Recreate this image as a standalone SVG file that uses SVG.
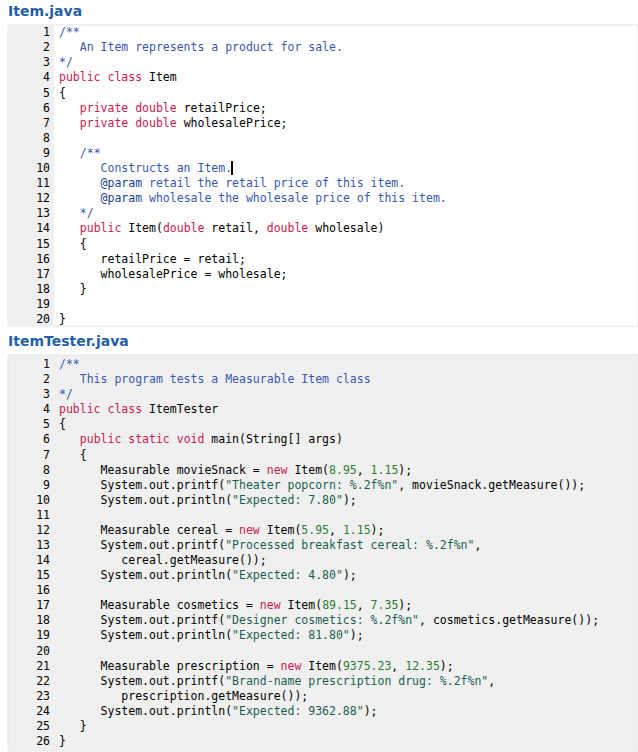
<svg xmlns="http://www.w3.org/2000/svg" width="638" height="752" viewBox="0 0 638 752">
<style>
.t{font-family:"DejaVu Sans",sans-serif;font-weight:bold;font-size:14px;fill:#1f5fa8}
.c{font-family:"DejaVu Sans Mono",monospace;font-size:11.5px;fill:#000;white-space:pre}
.n{font-family:"DejaVu Sans Mono",monospace;font-size:11.5px;fill:#000;text-anchor:end}
.k{fill:#c8204f}.m{fill:#3a57b0}.p{fill:#1d3f8f}.s{fill:#1a5e50}.d{fill:#2e7d32}
</style>
<text class="t" x="8" y="16">Item.java</text>
<rect x="8" y="25" width="630" height="301" fill="#fff" stroke="#e6e6e6"/>
<rect x="8" y="25" width="46" height="301" fill="#f0f0f0"/>
<g id="item" xml:space="preserve">
<text class="n" x="50" y="36.1">1</text><text class="c" x="59" y="36.1"><tspan class="m">/**</tspan></text>
<text class="n" x="50" y="51.2">2</text><text class="c" x="59" y="51.2"><tspan class="m">   An Item represents a product for sale.</tspan></text>
<text class="n" x="50" y="66.3">3</text><text class="c" x="59" y="66.3"><tspan class="m">*/</tspan></text>
<text class="n" x="50" y="81.4">4</text><text class="c" x="59" y="81.4"><tspan class="k">public class</tspan> Item</text>
<text class="n" x="50" y="96.5">5</text><text class="c" x="59" y="96.5">{</text>
<text class="n" x="50" y="111.6">6</text><text class="c" x="59" y="111.6">   <tspan class="k">private double</tspan> retailPrice;</text>
<text class="n" x="50" y="126.7">7</text><text class="c" x="59" y="126.7">   <tspan class="k">private double</tspan> wholesalePrice;</text>
<text class="n" x="50" y="141.8">8</text>
<text class="n" x="50" y="156.9">9</text><text class="c" x="59" y="156.9">   <tspan class="m">/**</tspan></text>
<text class="n" x="50" y="172">10</text><text class="c" x="59" y="172"><tspan class="m">      Constructs an Item.</tspan></text>
<text class="n" x="50" y="187.1">11</text><text class="c" x="59" y="187.1">      <tspan class="p">@param</tspan><tspan class="m"> retail the retail price of this item.</tspan></text>
<text class="n" x="50" y="202.2">12</text><text class="c" x="59" y="202.2">      <tspan class="p">@param</tspan><tspan class="m"> wholesale the wholesale price of this item.</tspan></text>
<text class="n" x="50" y="217.3">13</text><text class="c" x="59" y="217.3">   <tspan class="m">*/</tspan></text>
<text class="n" x="50" y="232.4">14</text><text class="c" x="59" y="232.4">   <tspan class="k">public</tspan> Item(<tspan class="k">double</tspan> retail, <tspan class="k">double</tspan> wholesale)</text>
<text class="n" x="50" y="247.5">15</text><text class="c" x="59" y="247.5">   {</text>
<text class="n" x="50" y="262.6">16</text><text class="c" x="59" y="262.6">      retailPrice = retail;</text>
<text class="n" x="50" y="277.7">17</text><text class="c" x="59" y="277.7">      wholesalePrice = wholesale;</text>
<text class="n" x="50" y="292.8">18</text><text class="c" x="59" y="292.8">   }</text>
<text class="n" x="50" y="307.9">19</text>
<text class="n" x="50" y="323">20</text><text class="c" x="59" y="323">}</text>
<rect x="231" y="161" width="2" height="14" fill="#000"/>
</g>
<text class="t" x="8" y="346">ItemTester.java</text>
<rect x="8" y="355" width="630" height="396" fill="#f0f0f0" stroke="#e6e6e6"/>
<g id="tester" xml:space="preserve">
<text class="n" x="50" y="368">1</text><text class="c" x="59" y="368"><tspan class="m">/**</tspan></text>
<text class="n" x="50" y="383.1">2</text><text class="c" x="59" y="383.1"><tspan class="m">   This program tests a Measurable Item class</tspan></text>
<text class="n" x="50" y="398.2">3</text><text class="c" x="59" y="398.2"><tspan class="m">*/</tspan></text>
<text class="n" x="50" y="413.2">4</text><text class="c" x="59" y="413.2"><tspan class="k">public class</tspan> ItemTester</text>
<text class="n" x="50" y="428.3">5</text><text class="c" x="59" y="428.3">{</text>
<text class="n" x="50" y="443.4">6</text><text class="c" x="59" y="443.4">   <tspan class="k">public static void</tspan> main(String[] args)</text>
<text class="n" x="50" y="458.5">7</text><text class="c" x="59" y="458.5">   {</text>
<text class="n" x="50" y="473.6">8</text><text class="c" x="59" y="473.6">      Measurable movieSnack = <tspan class="k">new</tspan> Item(<tspan class="d">8.95</tspan>, <tspan class="d">1.15</tspan>);</text>
<text class="n" x="50" y="488.6">9</text><text class="c" x="59" y="488.6">      System.out.printf(<tspan class="s">"Theater popcorn: %.2f%n"</tspan>, movieSnack.getMeasure());</text>
<text class="n" x="50" y="503.7">10</text><text class="c" x="59" y="503.7">      System.out.println(<tspan class="s">"Expected: 7.80"</tspan>);</text>
<text class="n" x="50" y="518.8">11</text>
<text class="n" x="50" y="533.9">12</text><text class="c" x="59" y="533.9">      Measurable cereal = <tspan class="k">new</tspan> Item(<tspan class="d">5.95</tspan>, <tspan class="d">1.15</tspan>);</text>
<text class="n" x="50" y="549">13</text><text class="c" x="59" y="549">      System.out.printf(<tspan class="s">"Processed breakfast cereal: %.2f%n"</tspan>,</text>
<text class="n" x="50" y="564">14</text><text class="c" x="59" y="564">         cereal.getMeasure());</text>
<text class="n" x="50" y="579.1">15</text><text class="c" x="59" y="579.1">      System.out.println(<tspan class="s">"Expected: 4.80"</tspan>);</text>
<text class="n" x="50" y="594.2">16</text>
<text class="n" x="50" y="609.3">17</text><text class="c" x="59" y="609.3">      Measurable cosmetics = <tspan class="k">new</tspan> Item(<tspan class="d">89.15</tspan>, <tspan class="d">7.35</tspan>);</text>
<text class="n" x="50" y="624.4">18</text><text class="c" x="59" y="624.4">      System.out.printf(<tspan class="s">"Designer cosmetics: %.2f%n"</tspan>, cosmetics.getMeasure());</text>
<text class="n" x="50" y="639.4">19</text><text class="c" x="59" y="639.4">      System.out.println(<tspan class="s">"Expected: 81.80"</tspan>);</text>
<text class="n" x="50" y="654.5">20</text>
<text class="n" x="50" y="669.6">21</text><text class="c" x="59" y="669.6">      Measurable prescription = <tspan class="k">new</tspan> Item(<tspan class="d">9375.23</tspan>, <tspan class="d">12.35</tspan>);</text>
<text class="n" x="50" y="684.7">22</text><text class="c" x="59" y="684.7">      System.out.printf(<tspan class="s">"Brand-name prescription drug: %.2f%n"</tspan>,</text>
<text class="n" x="50" y="699.8">23</text><text class="c" x="59" y="699.8">         prescription.getMeasure());</text>
<text class="n" x="50" y="714.8">24</text><text class="c" x="59" y="714.8">      System.out.println(<tspan class="s">"Expected: 9362.88"</tspan>);</text>
<text class="n" x="50" y="729.9">25</text><text class="c" x="59" y="729.9">   }</text>
<text class="n" x="50" y="745">26</text><text class="c" x="59" y="745">}</text>
</g>
</svg>
